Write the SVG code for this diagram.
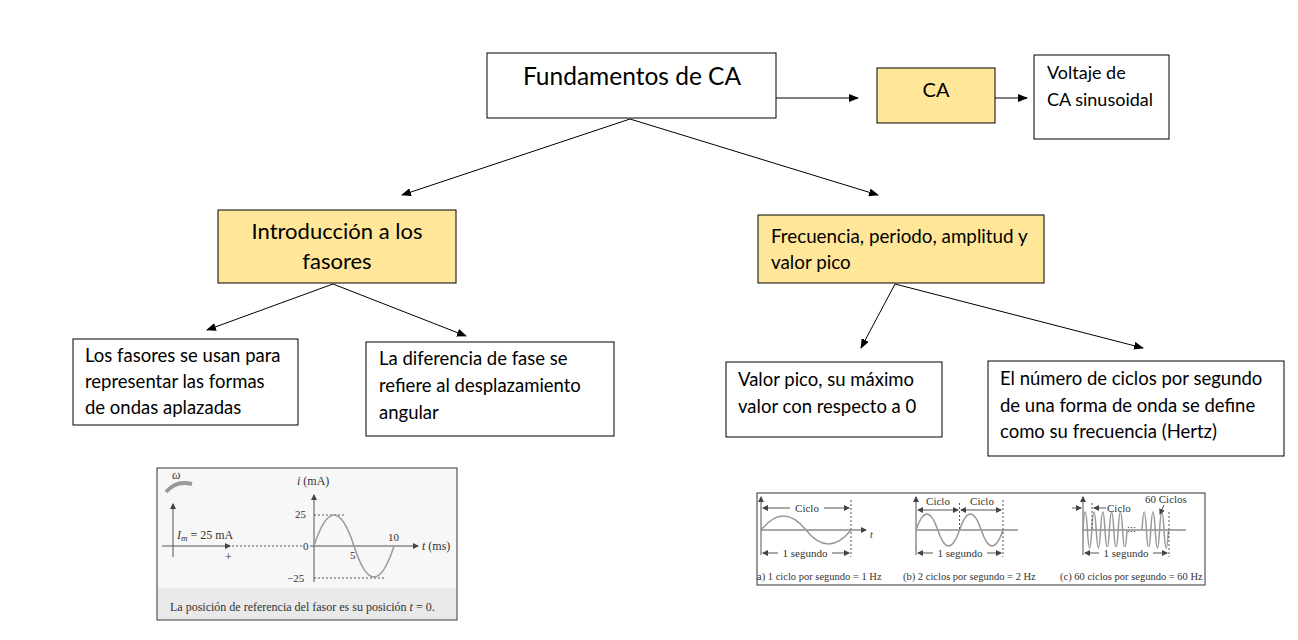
<svg xmlns="http://www.w3.org/2000/svg" width="1298" height="640" viewBox="0 0 1298 640">
<style>
.b{fill:#fff;stroke:#000;stroke-width:1}
.y{fill:#FFE699;stroke:#000;stroke-width:1}
.t{font-family:Lato,"Liberation Sans",sans-serif;fill:#000}
.s{font-family:"Liberation Serif",serif;fill:#333}
.c line,.c path{stroke:#000;stroke-width:1;fill:none}
.g{stroke:#555;stroke-width:1;fill:none}
.w{stroke:#999;stroke-width:1.5;fill:none}
.d{stroke:#555;stroke-width:1;stroke-dasharray:2 2;fill:none}
</style>
<defs>
<marker id="a" markerWidth="10" markerHeight="8" refX="9" refY="4" orient="auto" markerUnits="userSpaceOnUse"><path d="M0,0 L10,4 L0,8 z" fill="#000"/></marker>
<marker id="m" markerWidth="6" markerHeight="6" refX="5" refY="3" orient="auto-start-reverse" markerUnits="userSpaceOnUse"><path d="M0,0 L6,3 L0,6 z" fill="#444"/></marker>
</defs>
<rect width="1298" height="640" fill="#fff"/>
<g class="c">
<line x1="776" y1="98" x2="858" y2="98" marker-end="url(#a)"/>
<line x1="988" y1="98" x2="1027" y2="98" marker-end="url(#a)"/>
<line x1="630" y1="119" x2="402" y2="195" marker-end="url(#a)"/>
<line x1="630" y1="119" x2="878" y2="195" marker-end="url(#a)"/>
<line x1="333" y1="284" x2="207" y2="330" marker-end="url(#a)"/>
<line x1="333" y1="284" x2="466" y2="336" marker-end="url(#a)"/>
<line x1="895" y1="284" x2="861" y2="348" marker-end="url(#a)"/>
<line x1="895" y1="284" x2="1143" y2="348" marker-end="url(#a)"/>
</g>
<g id="fund"><rect class="b" x="487" y="53" width="289" height="65"/><text class="t" x="632" y="85" font-size="24.5" text-anchor="middle">Fundamentos de CA</text></g>
<g id="ca"><rect class="y" x="877" y="68" width="118" height="55"/><text class="t" x="936" y="97" font-size="20" text-anchor="middle">CA</text></g>
<g id="volt"><rect class="b" x="1034" y="55" width="135" height="84"/><text class="t" x="1047" y="79" font-size="18">Voltaje de</text><text class="t" x="1047" y="106" font-size="18">CA sinusoidal</text></g>
<g id="intro"><rect class="y" x="218" y="210" width="238" height="73"/><text class="t" x="337" y="239" font-size="22" text-anchor="middle">Introducción a los</text><text class="t" x="337" y="269" font-size="22" text-anchor="middle">fasores</text></g>
<g id="frec"><rect class="y" x="758" y="215" width="286" height="68"/><text class="t" x="771" y="243" font-size="18.8">Frecuencia, periodo, amplitud y</text><text class="t" x="771" y="269" font-size="18.8">valor pico</text></g>
<g id="fas"><rect class="b" x="73" y="339" width="225" height="86"/><text class="t" x="85" y="362" font-size="18.5">Los fasores se usan para</text><text class="t" x="85" y="388" font-size="18.5">representar las formas</text><text class="t" x="85" y="414" font-size="18.5">de ondas aplazadas</text></g>
<g id="dif"><rect class="b" x="366" y="342" width="248" height="94"/><text class="t" x="379" y="365" font-size="18.5">La diferencia de fase se</text><text class="t" x="379" y="392" font-size="18.5">refiere al desplazamiento</text><text class="t" x="379" y="419" font-size="18.5">angular</text></g>
<g id="pico"><rect class="b" x="726" y="362" width="216" height="75"/><text class="t" x="738" y="386" font-size="18.5">Valor pico, su máximo</text><text class="t" x="738" y="413" font-size="18.5">valor con respecto a 0</text></g>
<g id="num"><rect class="b" x="988" y="361" width="296" height="95"/><text class="t" x="1000" y="385" font-size="18.5">El número de ciclos por segundo</text><text class="t" x="1000" y="412" font-size="18.5">de una forma de onda se define</text><text class="t" x="1000" y="438" font-size="18.5">como su frecuencia (Hertz)</text></g>
<g id="img1">
<rect x="157" y="468" width="300" height="152" fill="#f7f7f7" stroke="#333"/>
<rect x="158" y="588" width="298" height="31" fill="#e9e9e9"/>
<path d="M192 484 Q176 480 166 492" stroke="#999" stroke-width="4" fill="none"/>
<text class="s" x="172" y="479" font-size="12" font-style="italic">ω</text>
<line class="g" x1="173" y1="557" x2="173" y2="504" marker-end="url(#m)"/>
<line class="g" x1="162" y1="546" x2="230" y2="546" marker-end="url(#m)"/>
<line class="d" x1="232" y1="546" x2="302" y2="546"/>
<text class="s" x="177" y="539" font-size="12"><tspan font-style="italic">I</tspan><tspan font-size="9" font-style="italic" dy="2">m</tspan><tspan dy="-2"> = 25 mA</tspan></text>
<text class="s" x="225" y="561" font-size="12">+</text>
<text class="s" x="303" y="550" font-size="11">0</text>
<line class="g" x1="314" y1="582" x2="314" y2="495" marker-end="url(#m)"/>
<line class="g" x1="310" y1="546" x2="418" y2="546" marker-end="url(#m)"/>
<text class="s" x="297" y="485" font-size="12"><tspan font-style="italic">i</tspan> (mA)</text>
<text class="s" x="422" y="550" font-size="12"><tspan font-style="italic">t</tspan> (ms)</text>
<text class="s" x="295" y="518" font-size="11">25</text>
<text class="s" x="287" y="582" font-size="11">−25</text>
<line class="d" x1="314" y1="515" x2="344" y2="515"/>
<line class="d" x1="314" y1="578" x2="385" y2="578"/>
<path class="w" d="M314 546 q20 -62 40 0 t40 0"/>
<text class="s" x="350" y="559" font-size="11">5</text>
<text class="s" x="388" y="541" font-size="11">10</text>
<text class="s" x="170" y="611" font-size="12">La posición de referencia del fasor es su posición <tspan font-style="italic">t</tspan> = 0.</text>
</g>
<g id="img2">
<rect x="757" y="493" width="448" height="92" fill="#fff" stroke="#333"/>
<line class="g" x1="761" y1="555" x2="761" y2="497" marker-end="url(#m)"/>
<line class="g" x1="761" y1="530" x2="866" y2="530" marker-end="url(#m)"/>
<path class="w" d="M761 530 q22.5 -28 45 0 t45 0"/>
<line class="d" x1="851" y1="500" x2="851" y2="557"/>
<line class="g" x1="763" y1="508" x2="849" y2="508" marker-start="url(#m)" marker-end="url(#m)"/>
<rect x="790" y="501" width="34" height="12" fill="#fff"/>
<text class="s" x="807" y="512" font-size="11" text-anchor="middle">Ciclo</text>
<text class="s" x="870" y="538" font-size="10" font-style="italic">t</text>
<line class="g" x1="763" y1="553" x2="849" y2="553" marker-start="url(#m)" marker-end="url(#m)"/>
<rect x="778" y="547" width="54" height="12" fill="#fff"/>
<text class="s" x="805" y="557" font-size="11" text-anchor="middle">1 segundo</text>
<text class="s" x="757" y="580" font-size="10.5">a) 1 ciclo por segundo = 1 Hz</text>
<line class="g" x1="916" y1="555" x2="916" y2="497" marker-end="url(#m)"/>
<line class="g" x1="916" y1="530" x2="1018" y2="530"/>
<path class="w" d="M916 530 q10.9 -32 21.75 0 t21.75 0 t21.75 0 t21.75 0"/>
<line class="d" x1="959.5" y1="503" x2="959.5" y2="530"/>
<line class="d" x1="1003" y1="500" x2="1003" y2="557"/>
<line class="g" x1="918" y1="510" x2="958" y2="510" marker-start="url(#m)" marker-end="url(#m)"/>
<line class="g" x1="961" y1="510" x2="1001" y2="510" marker-start="url(#m)" marker-end="url(#m)"/>
<text class="s" x="938" y="505" font-size="11" text-anchor="middle">Ciclo</text>
<text class="s" x="982" y="505" font-size="11" text-anchor="middle">Ciclo</text>
<line class="g" x1="918" y1="553" x2="1001" y2="553" marker-start="url(#m)" marker-end="url(#m)"/>
<rect x="933" y="547" width="54" height="12" fill="#fff"/>
<text class="s" x="960" y="557" font-size="11" text-anchor="middle">1 segundo</text>
<text class="s" x="903" y="580" font-size="10.5">(b) 2 ciclos por segundo = 2 Hz</text>
<line class="g" x1="1083" y1="555" x2="1083" y2="497" marker-end="url(#m)"/>
<line class="g" x1="1083" y1="530" x2="1186" y2="530"/>
<path class="w" d="M1083 530 q2.2 -36 4.4 0 t4.4 0 t4.4 0 t4.4 0 t4.4 0 t4.4 0 t4.4 0 t4.4 0 t4.4 0 t4.4 0"/>
<text class="s" x="1127" y="532" font-size="11">:::</text>
<path class="w" d="M1142 530 q2.2 -36 4.4 0 t4.4 0 t4.4 0 t4.4 0 t4.4 0 t4.4 0"/>
<line class="d" x1="1169" y1="512" x2="1169" y2="557"/>
<line class="g" x1="1072" y1="508" x2="1081" y2="508" marker-end="url(#m)"/>
<line class="d" x1="1092" y1="503" x2="1092" y2="530"/>
<line class="g" x1="1106" y1="508" x2="1094" y2="508" marker-end="url(#m)"/>
<text class="s" x="1107" y="512" font-size="11">Ciclo</text>
<text class="s" x="1145" y="503" font-size="11">60 Ciclos</text>
<line class="g" x1="1164" y1="505" x2="1160" y2="514" marker-end="url(#m)"/>
<line class="g" x1="1085" y1="553" x2="1167" y2="553" marker-start="url(#m)" marker-end="url(#m)"/>
<rect x="1099" y="547" width="54" height="12" fill="#fff"/>
<text class="s" x="1126" y="557" font-size="11" text-anchor="middle">1 segundo</text>
<text class="s" x="1060" y="580" font-size="10.5">(c) 60 ciclos por segundo = 60 Hz</text>
</g>
</svg>
